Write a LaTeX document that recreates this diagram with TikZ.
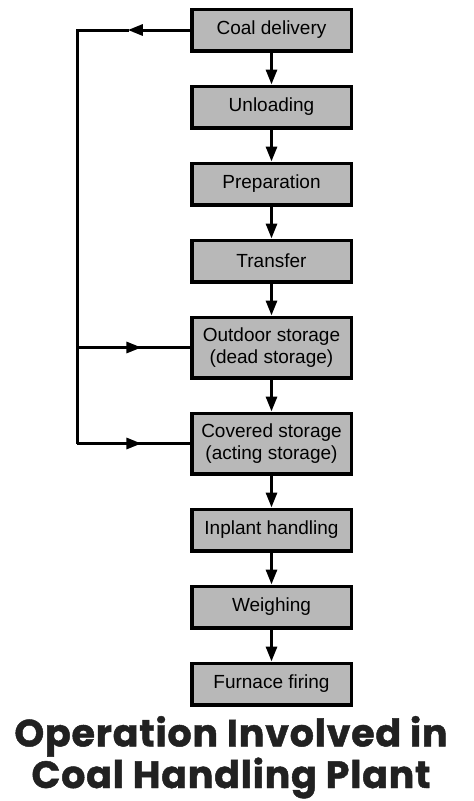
\documentclass[tikz,border=0pt]{standalone}
\usepackage{fontspec}
\setmainfont{Liberation Sans}
\newfontfamily\titlefont{Poppins}[BoldFeatures={FakeBold=1.2}, LetterSpace=2]
\usepackage{tikz}
\usetikzlibrary{arrows.meta, positioning, calc}

\begin{document}
\begin{tikzpicture}[
      x=1pt, y=-1pt,
      opbox/.style ={rectangle, draw, line width=3.5pt, fill=black!28, minimum width=159.5pt, minimum height=41.5pt,
                     inner sep=1pt, align=center, font=\fontsize{19}{22}\selectfont},
      opbox2/.style={opbox, minimum height=60.5pt},
      flow/.style  ={-{Triangle[length=15pt, width=11pt]}, line width=3pt},
      feed/.style  ={line width=3pt},
      node distance=32pt
    ]
    \useasboundingbox (0,0) rectangle (474,801);

    % Main chain of operations
    \node[opbox]               (CD) at (271.5,30) {Coal delivery};
    \node[opbox, below=of CD]  (UL) {Unloading};
    \node[opbox, below=of UL]  (PR) {Preparation};
    \node[opbox, below=of PR]  (TR) {Transfer};
    \node[opbox2, below=of TR] (OS) {Outdoor storage\\(dead storage)};
    \node[opbox2, below=of OS] (CS) {Covered storage\\(acting storage)};
    \node[opbox, below=of CS]  (IH) {Inplant handling};
    \node[opbox, below=of IH]  (WE) {Weighing};
    \node[opbox, below=of WE]  (FF) {Furnace firing};

    % Arrows down the chain
    \foreach \a/\b in {CD/UL, UL/PR, PR/TR, TR/OS, OS/CS, CS/IH, IH/WE, WE/FF}
      \draw[flow] (\a) -- (\b);

    % Bypass line on the left
    \coordinate (top) at (77,0 |- CD.west);
    \coordinate (bot) at (77,0 |- CS.west);
    \coordinate (mid) at (77,0 |- OS.west);
    \draw[flow] (CD.west) -- ($(top)!0.45!(CD.west)$);
    \draw[feed] ($(top)!0.46!(CD.west)$) -- (top) -- (bot);
    \draw[flow] (mid) -- ($(mid)!0.57!(OS.west)$);
    \draw[feed] ($(mid)!0.5!(OS.west)$) -- (OS.west);
    \draw[flow] (bot) -- ($(bot)!0.57!(CS.west)$);
    \draw[feed] ($(bot)!0.5!(CS.west)$) -- (CS.west);

    % Title
    \node[anchor=base, align=center, text=black!87, inner sep=0pt,
          font=\titlefont\bfseries\fontsize{38}{40}\selectfont] (title) at (231,788)
          {Operation Involved in\\Coal Handling Plant};

  \end{tikzpicture}
\end{document}
